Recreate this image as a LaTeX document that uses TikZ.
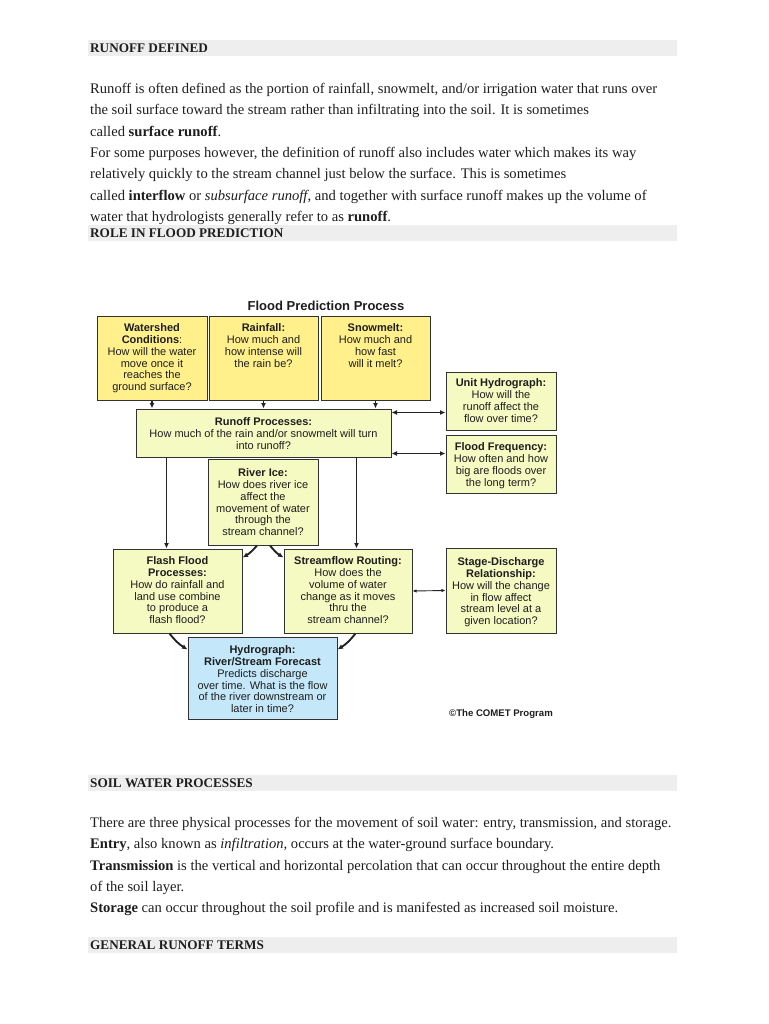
\documentclass[tikz,border=0pt]{standalone}
\usepackage{fontspec}
\setmainfont{Liberation Serif}
\newfontfamily\diafont{Liberation Sans}
\usetikzlibrary{arrows.meta,calc}
\definecolor{barbg}{RGB}{238,238,238}
\definecolor{yel}{RGB}{255,240,140}
\definecolor{grn}{RGB}{244,250,194}
\definecolor{blu}{RGB}{196,232,250}
\definecolor{edgec}{RGB}{50,50,50}
\definecolor{connc}{RGB}{35,35,35}
\definecolor{ink}{RGB}{30,30,30}
\begin{document}
\begin{tikzpicture}[x=1pt,y=-1pt,
  body/.style={font=\fontsize{14.6}{17}\selectfont, inner sep=0, text=ink, anchor=base west},
  head/.style={font=\bfseries\fontsize{13.2}{15}\selectfont, inner sep=0, text=ink, anchor=west},
  bar/.style={fill=barbg, draw=none},
  box/.style={draw=edgec, line width=1pt, inner sep=0},
  ybox/.style={box, fill=yel},
  gbox/.style={box, fill=grn},
  bbox/.style={box, fill=blu},
  btext/.style={font=\diafont\fontsize{11}{11.8}\selectfont, align=center, inner sep=0, anchor=north, text=ink},
  conn/.style={draw=connc, line width=1.9pt, -{Latex[length=5.5pt,width=5pt]}},
  dconn/.style={draw=connc, line width=1.9pt, {Latex[length=5.5pt,width=5pt]}-{Latex[length=5.5pt,width=5pt]}},
  tconn/.style={draw=connc, line width=0.9pt, {Latex[length=4pt,width=3.5pt]}-{Latex[length=4pt,width=3.5pt]}}
]
\fill[white] (0,0) rectangle (768,1024);
\useasboundingbox (0,0) rectangle (768,1024);

% ---------- top text ----------
\fill[bar] (88,40) rectangle (677,56);
\node[head] (h1) at (90,48.3) {RUNOFF DEFINED};
\node[body] (l1) at (90,93.8) {Runoff is often defined as the portion of rainfall, snowmelt, and/or irrigation water that runs over};
\node[body] (l2) at (90,114.8) {the soil surface toward the stream rather than infiltrating into the soil. It is sometimes};
\node[body] (l3) at (90,136.2) {called \textbf{surface runoff}.};
\node[body] (l4) at (90,157.3) {For some purposes however, the definition of runoff also includes water which makes its way};
\node[body] (l5) at (90,178.5) {relatively quickly to the stream channel just below the surface. This is sometimes};
\node[body] (l6) at (90,200.2) {called \textbf{interflow} or \textit{subsurface runoff}, and together with surface runoff makes up the volume of};
\node[body] (l7) at (90,221.8) {water that hydrologists generally refer to as \textbf{runoff}.};
\fill[bar] (88,225) rectangle (677,241);
\node[head] (h2) at (90,232.8) {ROLE IN FLOOD PREDICTION};

% ---------- diagram ----------
\node[font=\diafont\bfseries\fontsize{13}{15}\selectfont, text=ink, inner sep=0] (title) at (326,306) {Flood Prediction Process};

\node[ybox, minimum width=110, minimum height=84] (ws) at (152,358) {};
\node[ybox, minimum width=109, minimum height=84] (rf) at (263.5,358) {};
\node[ybox, minimum width=109, minimum height=84] (sm) at (375.5,358) {};
\node[gbox, minimum width=255, minimum height=48] (ro) at (263.5,433) {};
\node[gbox, minimum width=110, minimum height=58] (uh) at (501,401) {};
\node[gbox, minimum width=110, minimum height=58] (fq) at (501,464) {};
\node[gbox, minimum width=110, minimum height=86] (ri) at (263,502) {};
\node[gbox, minimum width=129, minimum height=84] (ff) at (177.5,591) {};
\node[gbox, minimum width=128, minimum height=84] (sr) at (348,591) {};
\node[bbox, minimum width=149, minimum height=82] (hy) at (262.5,678) {};
\node[gbox, minimum width=110, minimum height=85] (sd) at (501,590.5) {};

\node[btext] (wst) at ($(ws.north)+(0,8)$) {\textbf{Watershed}\\\textbf{Conditions}:\\How will the water\\move once it\\reaches the\\ground surface?};
\node[btext] (rft) at ($(rf.north)+(0,8)$) {\textbf{Rainfall:}\\How much and\\how intense will\\the rain be?};
\node[btext] (smt) at ($(sm.north)+(0,8)$) {\textbf{Snowmelt:}\\How much and\\how fast\\will it melt?};
\node[btext] (rot) at ($(ro.north)+(0,9)$) {\textbf{Runoff Processes:}\\How much of the rain and/or snowmelt will turn\\into runoff?};
\node[btext] (uht) at ($(uh.north)+(0,7)$) {\textbf{Unit Hydrograph:}\\How will the\\runoff affect the\\flow over time?};
\node[btext] (fqt) at ($(fq.north)+(0,8)$) {\textbf{Flood Frequency:}\\How often and how\\big are floods over\\the long term?};
\node[btext] (rit) at ($(ri.north)+(0,10)$) {\textbf{River Ice:}\\How does river ice\\affect the\\movement of water\\through the\\stream channel?};
\node[btext] (fft) at ($(ff.north)+(0,8)$) {\textbf{Flash Flood}\\\textbf{Processes:}\\How do rainfall and\\land use combine\\to produce a\\flash flood?};
\node[btext] (srt) at ($(sr.north)+(0,8)$) {\textbf{Streamflow Routing:}\\How does the\\volume of water\\change as it moves\\thru the\\stream channel?};
\node[btext] (hyt) at ($(hy.north)+(0,9)$) {\textbf{Hydrograph:}\\\textbf{River/Stream Forecast}\\Predicts discharge\\over time. What is the flow\\of the river downstream or\\later in time?};
\node[btext] (sdt) at ($(sd.north)+(0,10)$) {\textbf{Stage-Discharge}\\\textbf{Relationship:}\\How will the change\\in flow affect\\stream level at a\\given location?};

\node[font=\diafont\bfseries\fontsize{9.6}{11}\selectfont, text=ink, inner sep=0] (comet) at (501,714.5) {©The COMET Program};

% connector end points
\coordinate (roA) at ($(ro.north east)+(0,4)$);
\coordinate (roB) at ($(ro.south east)+(0,-4)$);
\coordinate (roC) at ($(ro.south west)+(31,0)$);
\coordinate (roD) at ($(ro.south west)+(221,0)$);

% connectors
\draw[conn] (ws.south) -- (ws.south |- ro.north);
\draw[conn] (rf.south) -- (rf.south |- ro.north);
\draw[conn] (sm.south) -- (sm.south |- ro.north);
\draw[dconn] (roA) -- (roA -| uh.west);
\draw[dconn] (roB) -- (roB -| fq.west);
\draw[conn] (roC) -- (roC |- ff.north);
\draw[conn] (roD) -- (roD |- sr.north);
\draw[conn] ($(ri.south)+(-6,0)$) to[bend left=10] ($(ff.north east)+(0,9)$);
\draw[conn] ($(ri.south)+(7,0)$) to[bend right=10] ($(sr.north west)+(0,9)$);
\draw[conn] ($(ff.south west)+(57,0)$) to[bend right=10] ($(hy.north west)+(0,13)$);
\draw[conn] ($(sr.south east)+(-57,0)$) to[bend left=10] ($(hy.north east)+(0,13)$);
\draw[tconn] (sr.east) -- (sd.west);

% ---------- bottom text ----------
\fill[bar] (88,775) rectangle (677,791);
\node[head] (h3) at (90,782.8) {SOIL WATER PROCESSES};
\node[body] (m1) at (90,827.5) {There are three physical processes for the movement of soil water: entry, transmission, and storage.};
\node[body] (m2) at (90,848.7) {\textbf{Entry}, also known as \textit{infiltration}, occurs at the water-ground surface boundary.};
\node[body] (m3) at (90,870.2) {\textbf{Transmission} is the vertical and horizontal percolation that can occur throughout the entire depth};
\node[body] (m4) at (90,891.5) {of the soil layer.};
\node[body] (m5) at (90,912.8) {\textbf{Storage} can occur throughout the soil profile and is manifested as increased soil moisture.};
\fill[bar] (88,937) rectangle (677,953);
\node[head] (h4) at (90,945.3) {GENERAL RUNOFF TERMS};
\end{tikzpicture}
\end{document}
